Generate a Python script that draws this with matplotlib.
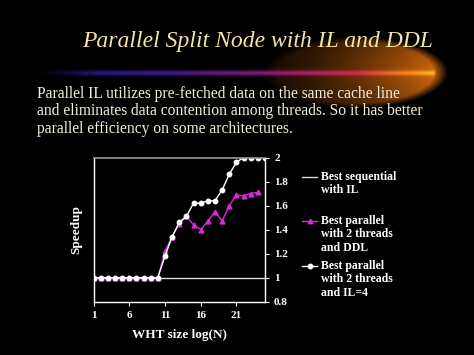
import numpy as np
import matplotlib
matplotlib.use("Agg")
import matplotlib.pyplot as plt
from matplotlib.lines import Line2D

# data
wht_size = list(range(1, 26))
best_seq = [1.0] * 25
par_ddl = [1.0, 1.0, 1.0, 1.0, 1.0, 1.0, 1.0, 1.0, 1.0, 1.0,
           1.22, 1.34, 1.45, 1.51, 1.44, 1.40, 1.47, 1.55, 1.47, 1.60,
           1.69, 1.68, 1.70, 1.71]
par_il4 = [1.0, 1.0, 1.0, 1.0, 1.0, 1.0, 1.0, 1.0, 1.0, 1.0,
           1.18, 1.34, 1.46, 1.51, 1.62, 1.62, 1.64, 1.64, 1.73, 1.86,
           1.96, 2.0, 2.0, 2.0, 2.0]
xticks = [1, 6, 11, 16, 21]
yticks = [0.8, 1.0, 1.2, 1.4, 1.6, 1.8, 2.0]
ytick_labels = ["0.8", "1", "1.2", "1.4", "1.6", "1.8", "2"]
legend_labels = ["Best sequential\nwith IL",
                 "Best parallel\nwith 2 threads\nand DDL",
                 "Best parallel\nwith 2 threads\nand IL=4"]

title = "Parallel Split Node with IL and DDL"
body = ("Parallel IL utilizes pre-fetched data on the same cache line\n"
        "and eliminates data contention among threads. So it has better\n"
        "parallel efficiency on some architectures.")

W, H = 474, 355
MAG = "#d62ad6"
FONT = "Liberation Serif"

fig = plt.figure(figsize=(W / 100, H / 100), dpi=100)
fig.patch.set_facecolor("black")

# background: streak + orange glow
bg = fig.add_axes([0, 0, 1, 1])
bg.axis("off")
yy, xx = np.mgrid[0:H, 0:W].astype(float)
img = np.zeros((H, W, 3))

# glow
xc, yc, a, b = 355.0, 72.0, 92.0, 36.0
r = np.sqrt(((xx - xc) / a) ** 2 + ((yy - yc) / b) ** 2)
inside = np.clip((1.0 - r) / 0.15, 0, 1)
ramp = np.clip((xx - 270) / 175, 0, 1) ** 1.4
glow = inside * (0.12 + 0.88 * ramp) * np.exp(-((yy - yc) / 45) ** 2 * 0.5)
glow_col = np.array([0.85, 0.42, 0.05])
img += glow[..., None] * glow_col

# streak
t = np.clip((xx - 38) / (433 - 38), 0, 1)
stops = np.array([0.0, 0.35, 0.62, 0.8, 0.93, 1.0])
cols = np.array([[0.08, 0.08, 0.45],
                 [0.25, 0.10, 0.55],
                 [0.60, 0.10, 0.45],
                 [0.85, 0.15, 0.30],
                 [1.00, 0.50, 0.10],
                 [1.00, 0.72, 0.15]])
streak_col = np.stack([np.interp(t, stops, cols[:, k]) for k in range(3)], axis=-1)
fade_in = np.clip((xx - 38) / 60, 0, 1)
end = np.clip((436 - xx) / 3, 0, 1)
prof = np.exp(-((yy - 72.5) / 2.6) ** 2) * fade_in * end
img = img * (1 - prof[..., None]) + streak_col * prof[..., None]
bg.imshow(np.clip(img, 0, 1), extent=[0, 1, 0, 1], aspect="auto", origin="upper")

fig.text(258 / W, 1 - 41 / H, title, color="#f3e4a8", fontsize=17,
         family=FONT, style="italic", ha="center", va="center")
fig.text(37 / W, 1 - 86 / H, body, color="#f2eedc", fontsize=11.2,
         family=FONT, ha="left", va="top", linespacing=1.12)

# chart
ax = fig.add_axes([93.5 / W, 1 - 301.7 / H, (265 - 93.5) / W, (301.7 - 157.5) / H])
ax.set_facecolor("black")
ax.plot(wht_size, best_seq, color="#d8d8d8", lw=1.0)
ax.plot(wht_size[:len(par_ddl)], par_ddl, color=MAG, lw=1.0, marker="^",
        ms=3.5, mec=MAG, mfc=MAG)
ax.plot(wht_size, par_il4, color="white", lw=1.0, marker="o", ms=3.2,
        mec="white", mfc="white")
ax.set_xlim(1, 25)
ax.set_ylim(0.8, 2.0)
ax.set_xticks(xticks)
ax.set_yticks(yticks)
ax.set_yticklabels(ytick_labels)
ax.yaxis.tick_right()
for s in ["left", "bottom", "right"]:
    ax.spines[s].set_color("white")
    ax.spines[s].set_linewidth(1.0)
ax.spines["top"].set_color("#9a9a9a")
ax.spines["top"].set_linewidth(1.2)
ax.tick_params(colors="white", labelsize=8, length=3, width=0.8)
for lab in ax.get_xticklabels() + ax.get_yticklabels():
    lab.set_family(FONT)
    lab.set_fontweight("bold")
ax.set_xlabel("WHT size log(N)", color="white", fontsize=9.5, family=FONT,
              fontweight="bold", labelpad=7)
ax.set_ylabel("Speedup", color="white", fontsize=9.5, family=FONT,
              fontweight="bold", labelpad=8)

# legend, placed by hand
handles = [dict(color="#d8d8d8", marker=None),
           dict(color=MAG, marker="^"),
           dict(color="white", marker="o")]
ys = [177, 221, 266]
for lab, h, y in zip(legend_labels, handles, ys):
    ln = Line2D([302 / W, 317 / W], [1 - y / H, 1 - y / H], transform=fig.transFigure,
                color=h["color"], lw=1.0)
    fig.add_artist(ln)
    if h["marker"]:
        mk = Line2D([309.5 / W], [1 - y / H], transform=fig.transFigure,
                    color=h["color"], marker=h["marker"], ms=3.2, lw=0)
        fig.add_artist(mk)
    fig.text(321 / W, 1 - (y - 6) / H, lab, color="white", fontsize=8.5,
             family=FONT, fontweight="bold", ha="left", va="top", linespacing=1.15)

fig.savefig("out.png", dpi=100, facecolor="black")
